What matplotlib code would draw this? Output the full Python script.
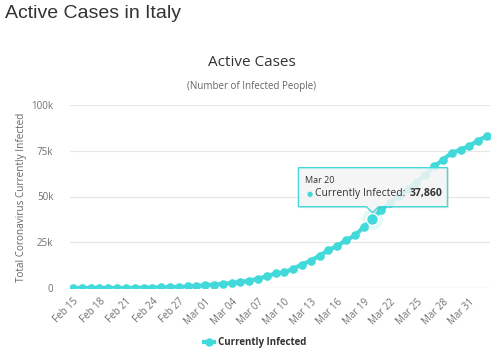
import numpy as np
import matplotlib
matplotlib.use("Agg")
import matplotlib.pyplot as plt
import matplotlib.patches as mpatches
import matplotlib.transforms as mtrans
from matplotlib.lines import Line2D

# Italy active cases, Feb 15 - Apr 2
dates = (["Feb %02d" % d for d in range(15, 30)]
         + ["Mar %02d" % d for d in range(1, 32)]
         + ["Apr %02d" % d for d in range(1, 3)])
active = [3, 3, 3, 3, 3, 3, 17, 76, 150, 221, 311, 438, 593, 821, 1049,
          1577, 1835, 2263, 2706, 3296, 3916, 5061, 6387, 7985, 8514,
          10590, 12839, 14955, 17750, 20603, 23073, 26062, 28710, 33190,
          37860, 42681, 46638, 50418, 54030, 57521, 62013, 66414, 70065,
          73880, 75528, 77635, 80572, 83049]
yticks = [0, 25000, 50000, 75000, 100000]
ytick_labels = ["0", "25k", "50k", "75k", "100k"]
hover_date = "Mar 20"

line_col = "#41d9d9"
font = "Open Sans"

fig = plt.figure(figsize=(5, 3.61), dpi=100)
W, H = 500, 361
ax = fig.add_axes([70 / W, 1 - 288 / H, 420 / W, 183 / H])

x = np.arange(len(dates))
ax.plot(x, active, color=line_col, lw=3, marker="o", ms=6.2,
        markeredgewidth=0, zorder=3, solid_capstyle="round")

ax.set_xlim(-0.35, len(dates) - 1 + 0.35)
ax.set_ylim(0, 100000)
ax.set_yticks(yticks)
ax.set_yticklabels(ytick_labels, fontsize=7, color="#707070", family=font)
ticks = x[::3][:16]
ax.set_xticks(ticks)
ax.set_xticklabels([dates[i] for i in ticks], rotation=45, ha="right",
                   va="top", rotation_mode="anchor", fontsize=7,
                   color="#707070", family=font)
ax.tick_params(axis="both", length=0)
ax.tick_params(axis="y", pad=12)
ax.tick_params(axis="x", pad=6)
ax.grid(axis="y", color="#e6e6e6", lw=0.8)
ax.set_axisbelow(True)
for s in ax.spines.values():
    s.set_visible(False)
ax.axhline(0, color="#ccd6eb", lw=0.8, zorder=1)

# titles
fig.text(5 / W, 1 - 14 / H, "Active Cases in Italy", fontsize=14,
         color="#333333", family="Liberation Sans", va="center")
fig.text(252 / W, 1 - 63 / H, "Active Cases", fontsize=11,
         color="#333333", family=font, ha="center", va="center")
fig.text(252 / W, 1 - 87 / H, "(Number of Infected People)", fontsize=7,
         color="#666666", family=font, ha="center", va="center")
fig.text(22 / W, 1 - 197 / H, "Total Coronavirus Currently Infected",
         fontsize=7.2, color="#666666", family=font, rotation=90,
         ha="center", va="center")

# legend
handle = Line2D([], [], color=line_col, lw=3, marker="o", ms=6,
                markeredgewidth=0)
leg = fig.legend([handle], ["Currently Infected"], loc="center",
                 bbox_to_anchor=(255 / W, 1 - 343 / H), frameon=False,
                 handlelength=1.1, handletextpad=0.4,
                 prop={"family": font, "size": 7, "weight": "bold"})
for t in leg.get_texts():
    t.set_color("#333333")

# hovered point and tooltip
hi = dates.index(hover_date)
hv = active[hi]
ax.plot(hi, hv, "o", ms=15, color=line_col, alpha=0.15, markeredgewidth=0,
        zorder=4)
ax.plot(hi, hv, "o", ms=8.5, color=line_col, markeredgecolor="white",
        markeredgewidth=1, zorder=5)

fig.canvas.draw()
renderer = fig.canvas.get_renderer()
px, py = ax.transData.transform((hi, hv))
tr = mtrans.Affine2D().translate(px, py)
verts = [(-74, 12), (-6, 12), (0, 6), (6, 12), (75, 12), (75, 51),
         (-74, 51)]
shadow = mpatches.Polygon([(vx + 1.5, vy - 1.5) for vx, vy in verts],
                          closed=True, transform=tr, facecolor="#000000",
                          alpha=0.08, edgecolor="none", zorder=6)
box = mpatches.Polygon(verts, closed=True, transform=tr,
                       facecolor="#f7f7f7", alpha=0.85, edgecolor="none",
                       zorder=7)
box_edge = mpatches.Polygon(verts, closed=True, transform=tr,
                            facecolor="none", edgecolor=line_col, lw=1,
                            zorder=8)
fig.add_artist(shadow)
fig.add_artist(box)
fig.add_artist(box_edge)

ident = mtrans.IdentityTransform()
fig.text(px - 67, py + 38, hover_date, transform=ident, family=font,
         fontsize=6.5, color="#333333", va="center", zorder=9)
fig.text(px - 63, py + 25, "\u25cf", transform=ident, fontsize=5,
         color=line_col, va="center", ha="center", zorder=9)
lab = fig.text(px - 57, py + 25, "Currently Infected: ", transform=ident,
               family=font, fontsize=7.5, color="#333333", va="center",
               zorder=9)
ext = lab.get_window_extent(renderer)
fig.text(ext.x1 + 1, py + 25, "{:,}".format(hv), transform=ident,
         family=font, fontsize=7.5, weight="bold", color="#333333",
         va="center", zorder=9)

fig.savefig("out.png", dpi=100)
